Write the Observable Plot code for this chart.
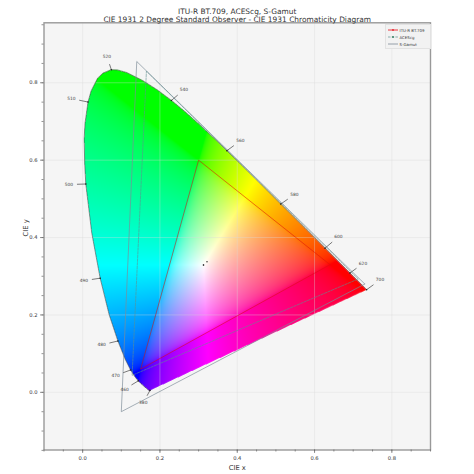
<!DOCTYPE html>
<html><head><meta charset="utf-8">
<script src="https://cdn.jsdelivr.net/npm/d3@7"></script>
<script src="https://cdn.jsdelivr.net/npm/@observablehq/plot@0.6"></script>
<style>html,body{margin:0;padding:0;background:#fff}#c{position:relative;width:474px;height:474px;font-family:"DejaVu Sans",sans-serif}
#lg{position:absolute;left:385px;top:24px;width:44px;height:23px;background:#f2f2f2;border:0.5px solid #e2e2e2;font-size:3.9px;color:#333}
#lg div{position:absolute;left:13.5px;white-space:nowrap}
#lg svg{position:absolute;left:2px;top:0}
</style></head><body><div id="c"></div>
<script>
const locusWavelength=[380,385,390,395,400,405,410,415,420,425,430,435,440,445,450,455,460,465,470,475,480,485,490,495,500,502,505,507,510,512,515,517,520,522,525,530,535,540,545,550,555,560,565,570,575,580,585,590,595,600,605,610,615,620,625,630,635,640,645,650,655,660,665,670,675,680,685,690,695,700];
const locusX=[.1741,.1740,.1738,.1736,.1733,.1730,.1726,.1721,.1714,.1703,.1689,.1669,.1644,.1611,.1566,.1510,.1440,.1355,.1241,.1096,.0913,.0687,.0454,.0235,.0082,.0054,.0039,.0061,.0139,.0219,.0389,.0527,.0743,.0900,.1142,.1547,.1929,.2296,.2658,.3016,.3373,.3731,.4087,.4441,.4788,.5125,.5448,.5752,.6029,.6270,.6482,.6658,.6801,.6915,.7006,.7079,.7140,.7190,.7230,.7260,.7283,.7300,.7311,.7320,.7327,.7334,.7340,.7344,.7346,.7347];
const locusY=[.0050,.0050,.0049,.0049,.0048,.0048,.0048,.0048,.0051,.0058,.0069,.0086,.0109,.0138,.0177,.0227,.0297,.0399,.0578,.0868,.1327,.2007,.2950,.4127,.5384,.5880,.6548,.6950,.7502,.7790,.8120,.8250,.8338,.8330,.8262,.8059,.7816,.7543,.7243,.6923,.6589,.6245,.5896,.5547,.5202,.4866,.4544,.4242,.3965,.3725,.3514,.3340,.3197,.3083,.2993,.2920,.2859,.2809,.2770,.2740,.2717,.2700,.2689,.2680,.2673,.2666,.2660,.2656,.2654,.2653];
const labelNm=[380,460,470,480,490,500,510,520,540,560,580,600,620,700];
const labelX=[.1568,.1085,.0853,.0491,.0034,-.0354,-.0292,.0628,.2618,.408,.5478,.6615,.7253,.7693];
const labelY=[-.0271,.0083,.0435,.1227,.2887,.5371,.7592,.8677,.7817,.6498,.5111,.4018,.3328,.2902];
const gamutNames=["ITU-R BT.709","ACEScg","S-Gamut"];
const gamutX=[[.64,.30,.15],[.713,.165,.128],[.73,.14,.10]];
const gamutY=[[.33,.60,.06],[.293,.830,.044],[.28,.855,-.05]];
const whiteX=[.3127,.32168,.3127];
const whiteY=[.329,.33767,.329];
const xMajor=[0,.2,.4,.6,.8], yMajor=[0,.2,.4,.6,.8];
const xMinor=d3.range(-2,19).map(i=>i*.05).filter(v=>v>=-.1&&v<=.9);
const yMinor=d3.range(-2,20).map(i=>i*.05).concat([-.15]);
const titleLines=["ITU-R BT.709, ACEScg, S-Gamut","CIE 1931 2 Degree Standard Observer - CIE 1931 Chromaticity Diagram"];

const locusPoly=locusX.map((x,i)=>[x,locusY[i]]);
const enc=v=>v<=.0031308?12.92*v:1.055*Math.pow(v,1/2.4)-.055;
function colour(x,y){ // xy chromaticity to normalised sRGB
  const X=x/y,Y=1,Z=(1-x-y)/y;
  let r=3.2406*X-1.5372*Y-.4986*Z,g=-.9689*X+1.8758*Y+.0415*Z,b=.0557*X-.2040*Y+1.0570*Z;
  const m=Math.max(r,g,b);
  r=Math.max(0,r/m);g=Math.max(0,g/m);b=Math.max(0,b/m);
  return `rgb(${Math.round(255*enc(r))},${Math.round(255*enc(g))},${Math.round(255*enc(b))})`;
}
const labels=labelNm.map((nm,i)=>{
  const k=locusWavelength.indexOf(nm);const x=locusX[k],y=locusY[k],lx=labelX[i],ly=labelY[i];
  const t=Math.min(.6,(8/387)/Math.hypot(x-lx,y-ly));
  return {nm,lx,ly,x,y,sx:lx+(x-lx)*t,sy:ly+(y-ly)*t};
});
const tri=g=>{const p=gamutX[g].map((x,i)=>({x,y:gamutY[g][i]}));return [...p,p[0]];};
const lineColor=["#e8222a","#5f8f8f","#7d8b97"];
const hx=[-.1,.9],hy=[-.149,.955];
const plot=Plot.plot({
  width:474,height:474,marginLeft:43.5,marginRight:44,marginTop:22.3,marginBottom:24.5,
  style:{fontFamily:'"DejaVu Sans",sans-serif',background:"#fff"},
  x:{domain:hx,label:null},y:{domain:hy,label:null},
  color:{type:"identity"},
  marks:[
    Plot.frame({fill:"#f5f5f5",stroke:null}),
    Plot.raster({x1:hx[0],x2:hx[1],y1:hy[0],y2:hy[1],pixelSize:.5,interpolate:null,
      fill:(x,y)=>colour(x,y),
      fillOpacity:(x,y)=>d3.polygonContains(locusPoly,[x,y])?1:0}),
    Plot.gridX(xMajor,{stroke:"#d8d8d8",strokeOpacity:.45,strokeWidth:.8}),
    Plot.gridY(yMajor,{stroke:"#d8d8d8",strokeOpacity:.45,strokeWidth:.8}),
    Plot.line(locusPoly,{x:d=>d[0],y:d=>d[1],stroke:"#444",strokeWidth:.7,strokeOpacity:.8}),
    Plot.line(tri(2),{x:"x",y:"y",stroke:lineColor[2],strokeWidth:.8,strokeOpacity:.85}),
    Plot.line(tri(1),{x:"x",y:"y",stroke:lineColor[1],strokeWidth:.7,strokeDasharray:"2.5,1.2",strokeOpacity:.85}),
    Plot.line(tri(0),{x:"x",y:"y",stroke:"#dd1111",strokeWidth:1,strokeOpacity:.55}),
    Plot.dot(whiteX.map((x,i)=>({x,y:whiteY[i]})),{x:"x",y:"y",r:.75,fill:"#333"}),
    Plot.link(labels,{x1:"sx",y1:"sy",x2:"x",y2:"y",stroke:"#444",strokeWidth:.7}),
    Plot.dot(labels,{x:"x",y:"y",r:.8,fill:"#222"}),
    Plot.text(labels,{x:"lx",y:"ly",text:d=>String(d.nm),fontSize:4.4,fill:"#444"}),
    Plot.frame({stroke:"#999",strokeWidth:1.4}),
    Plot.axisX(xMinor,{tickSize:2,tickFormat:null,text:null,stroke:"#666",strokeWidth:.7,label:null}),
    Plot.axisY(yMinor,{tickSize:2,tickFormat:null,text:null,stroke:"#666",strokeWidth:.7,label:null}),
    Plot.axisX(xMajor,{tickSize:3.5,tickPadding:3,fontSize:5.2,stroke:"#666",strokeWidth:.7,color:"#333",tickFormat:d3.format(".1f"),label:null}),
    Plot.axisY(yMajor,{tickSize:3.5,tickPadding:3,fontSize:5.2,stroke:"#666",strokeWidth:.7,color:"#333",tickFormat:d3.format(".1f"),label:null}),
    Plot.text(["CIE x"],{frameAnchor:"bottom",dy:20,fontSize:6.8,fill:"#333"}),
    Plot.text(["CIE y"],{frameAnchor:"left",dx:-18,rotate:-90,fontSize:6.8,fill:"#333"}),
    Plot.text([titleLines[0]],{frameAnchor:"top",dy:-14,fontSize:7.45,fill:"#333"}),
    Plot.text([titleLines[1]],{frameAnchor:"top",dy:-6,fontSize:7.45,fill:"#333"})
  ]
});
const c=document.getElementById("c");c.appendChild(plot);
const lg=document.createElement("div");lg.id="lg";
const ys=[5,12,19];
let h=`<svg width="12" height="23">`;
h+=`<line x1="0" x2="10" y1="5" y2="5" stroke="${lineColor[0]}" stroke-width=".9"/><circle cx="5" cy="5" r=".9" fill="${lineColor[0]}"/>`;
h+=`<line x1="0" x2="10" y1="12" y2="12" stroke="${lineColor[1]}" stroke-width=".7" stroke-dasharray="2.5,1.2"/><circle cx="5" cy="12" r=".9" fill="#2e7d5b"/>`;
h+=`<line x1="0" x2="10" y1="19" y2="19" stroke="${lineColor[2]}" stroke-width=".8"/></svg>`;
gamutNames.forEach((n,i)=>{h+=`<div style="top:${ys[i]-2.5}px">${n}</div>`;});
lg.innerHTML=h;c.appendChild(lg);
</script></body></html>
